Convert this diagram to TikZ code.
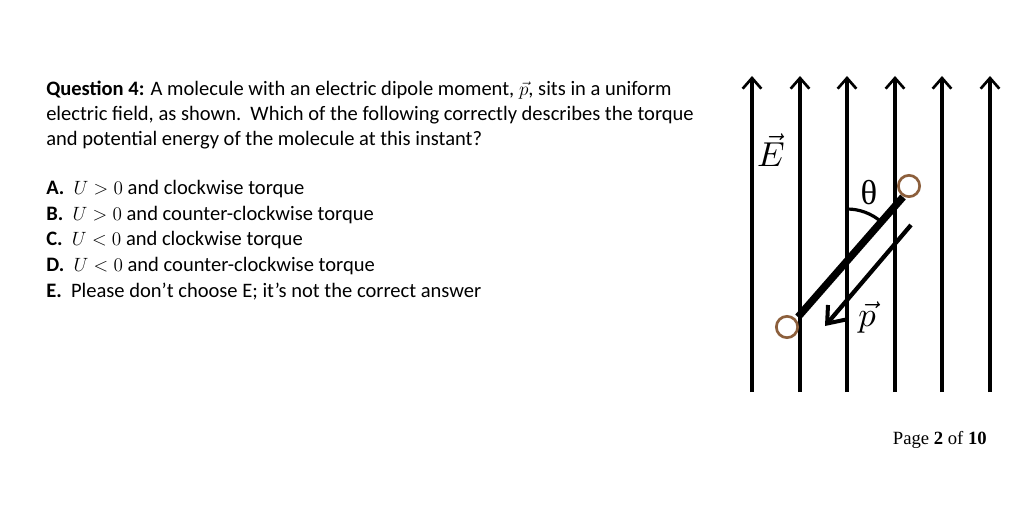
\documentclass[tikz,border=0pt]{standalone}
\usepackage{fontspec}
\setmainfont{Carlito}
\newfontfamily\timesf{Liberation Serif}
\usetikzlibrary{arrows.meta}
\begin{document}
\begin{tikzpicture}[x=0.75pt,y=-0.75pt,
  txt/.style={anchor=base west,inner sep=0pt,font=\fontsize{15.4}{18}\selectfont},
  field/.style={line width=2.6pt,-{Straight Barb[length=8pt,width=14pt,line width=2pt]}},
  charge/.style={circle,draw={rgb,255:red,140;green,95;blue,60},line width=2pt,minimum size=16pt,inner sep=0pt,fill=white}]
\useasboundingbox (0,0) rectangle (1024,517);
\node[txt] (l1) at (46,95) {\textbf{Question 4:} A molecule with an electric dipole moment, $\vec{p}$, sits in a uniform};
\node[txt] (l2) at (46,120) {electric field, as shown.\ \ Which of the following correctly describes the torque};
\node[txt] (l3) at (46,145) {and potential energy of the molecule at this instant?};
\node[txt] (a) at (46,194) {\textbf{A.}\ \ $U>0$ and clockwise torque};
\node[txt] (b) at (46,220) {\textbf{B.}\ \ $U>0$ and counter-clockwise torque};
\node[txt] (c) at (46,245) {\textbf{C.}\ \ $U<0$ and clockwise torque};
\node[txt] (d) at (46,271) {\textbf{D.}\ \ $U<0$ and counter-clockwise torque};
\node[txt] (e) at (46,297) {\textbf{E.}\ \ Please don’t choose E; it’s not the correct answer};
\node[anchor=base east,inner sep=0pt,font=\timesf\fontsize{14}{16}\selectfont] (pg) at (987,444) {Page \textbf{2} of \textbf{10}};
\foreach \x [count=\i] in {752,800,847,895,942,990}{
  \coordinate (b\i) at (\x,392); \coordinate (t\i) at (\x,76);
  \draw[field] (b\i) -- (t\i);}
\node[inner sep=0pt,fill=white] (E) at (771,150) {\scalebox{2.6}{$\vec{E}$}};
\coordinate (r1) at (903,197); \coordinate (r2) at (798,317);
\draw[line width=5.5pt] (r1) -- (r2);
\node[charge] (q1) at (909,186) {};
\node[charge] (q2) at (787,327) {};
\coordinate (pa) at (911,225); \coordinate (pb) at (825,326);
\draw[line width=3.2pt,-{Straight Barb[length=11pt,width=17pt,line width=3pt]}] (pa) -- (pb);
\node[inner sep=0pt] (p) at (867,317) {\scalebox{2.6}{$\vec{p}$}};
\draw[line width=2.4pt] (847,209) arc[start angle=-90,end angle=-49,radius=52];
\node[font=\timesf\fontsize{26}{28}\selectfont] (th) at (869,193) {θ};
\end{tikzpicture}
\end{document}
